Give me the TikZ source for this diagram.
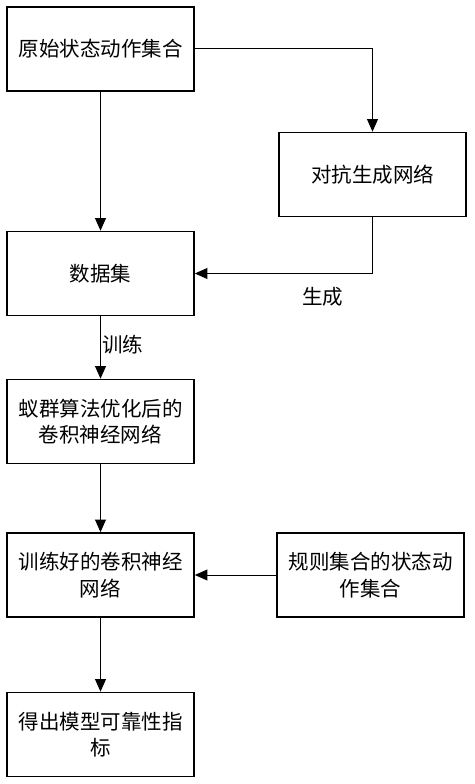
\documentclass[tikz,border=0pt]{standalone}
\usepackage{fontspec}
\setmainfont{Noto Sans CJK SC}
\usetikzlibrary{arrows.meta, positioning}
\tikzset{>={Triangle[width=3.8mm,length=4.4mm]}}

\begin{document}
\begin{tikzpicture}[x = 1pt, y = 1pt, on grid, node distance = 150pt,
	font = \fontsize{20.5}{26.5}\selectfont,
	box/.style = {draw, line width = 1.6pt, minimum width = 187pt, minimum height = 84pt, align = center, inner sep = 2pt}]
		\useasboundingbox (0,0) rectangle (474,-784);
		\node (orig) [box] at (100.5,-49) {原始状态动作集合};
		\node (gan) [box, below right = 125.5pt and 272pt of orig] {对抗生成网络};
		\node (data) [box, below = 224.5pt of orig] {数据集};
		\node (aco) [box, below = 148pt of data] {蚁群算法优化后的\\卷积神经网络};
		\node (cnn) [box, below = 153.5pt of aco] {训练好的卷积神经\\网络};
		\node (rule) [box, right = 270pt of cnn] {规则集合的状态动\\作集合};
		\node (index) [box, below = 159.5pt of cnn] {得出模型可靠性指\\标};
		\draw[->, line width = 1pt] (orig) -| (gan);
		\draw[->, line width = 1pt] (gan) |- node [below = 10pt, pos = 0.64] {生成} (data);
		\path[->, line width = 1pt]
		(orig) edge (data)
		(data) edge node [right, inner sep = 1pt, pos = 0.45] {训练} (aco)
		(aco) edge (cnn)
		(rule) edge (cnn)
		(cnn) edge (index);
		\end{tikzpicture}
\end{document}
